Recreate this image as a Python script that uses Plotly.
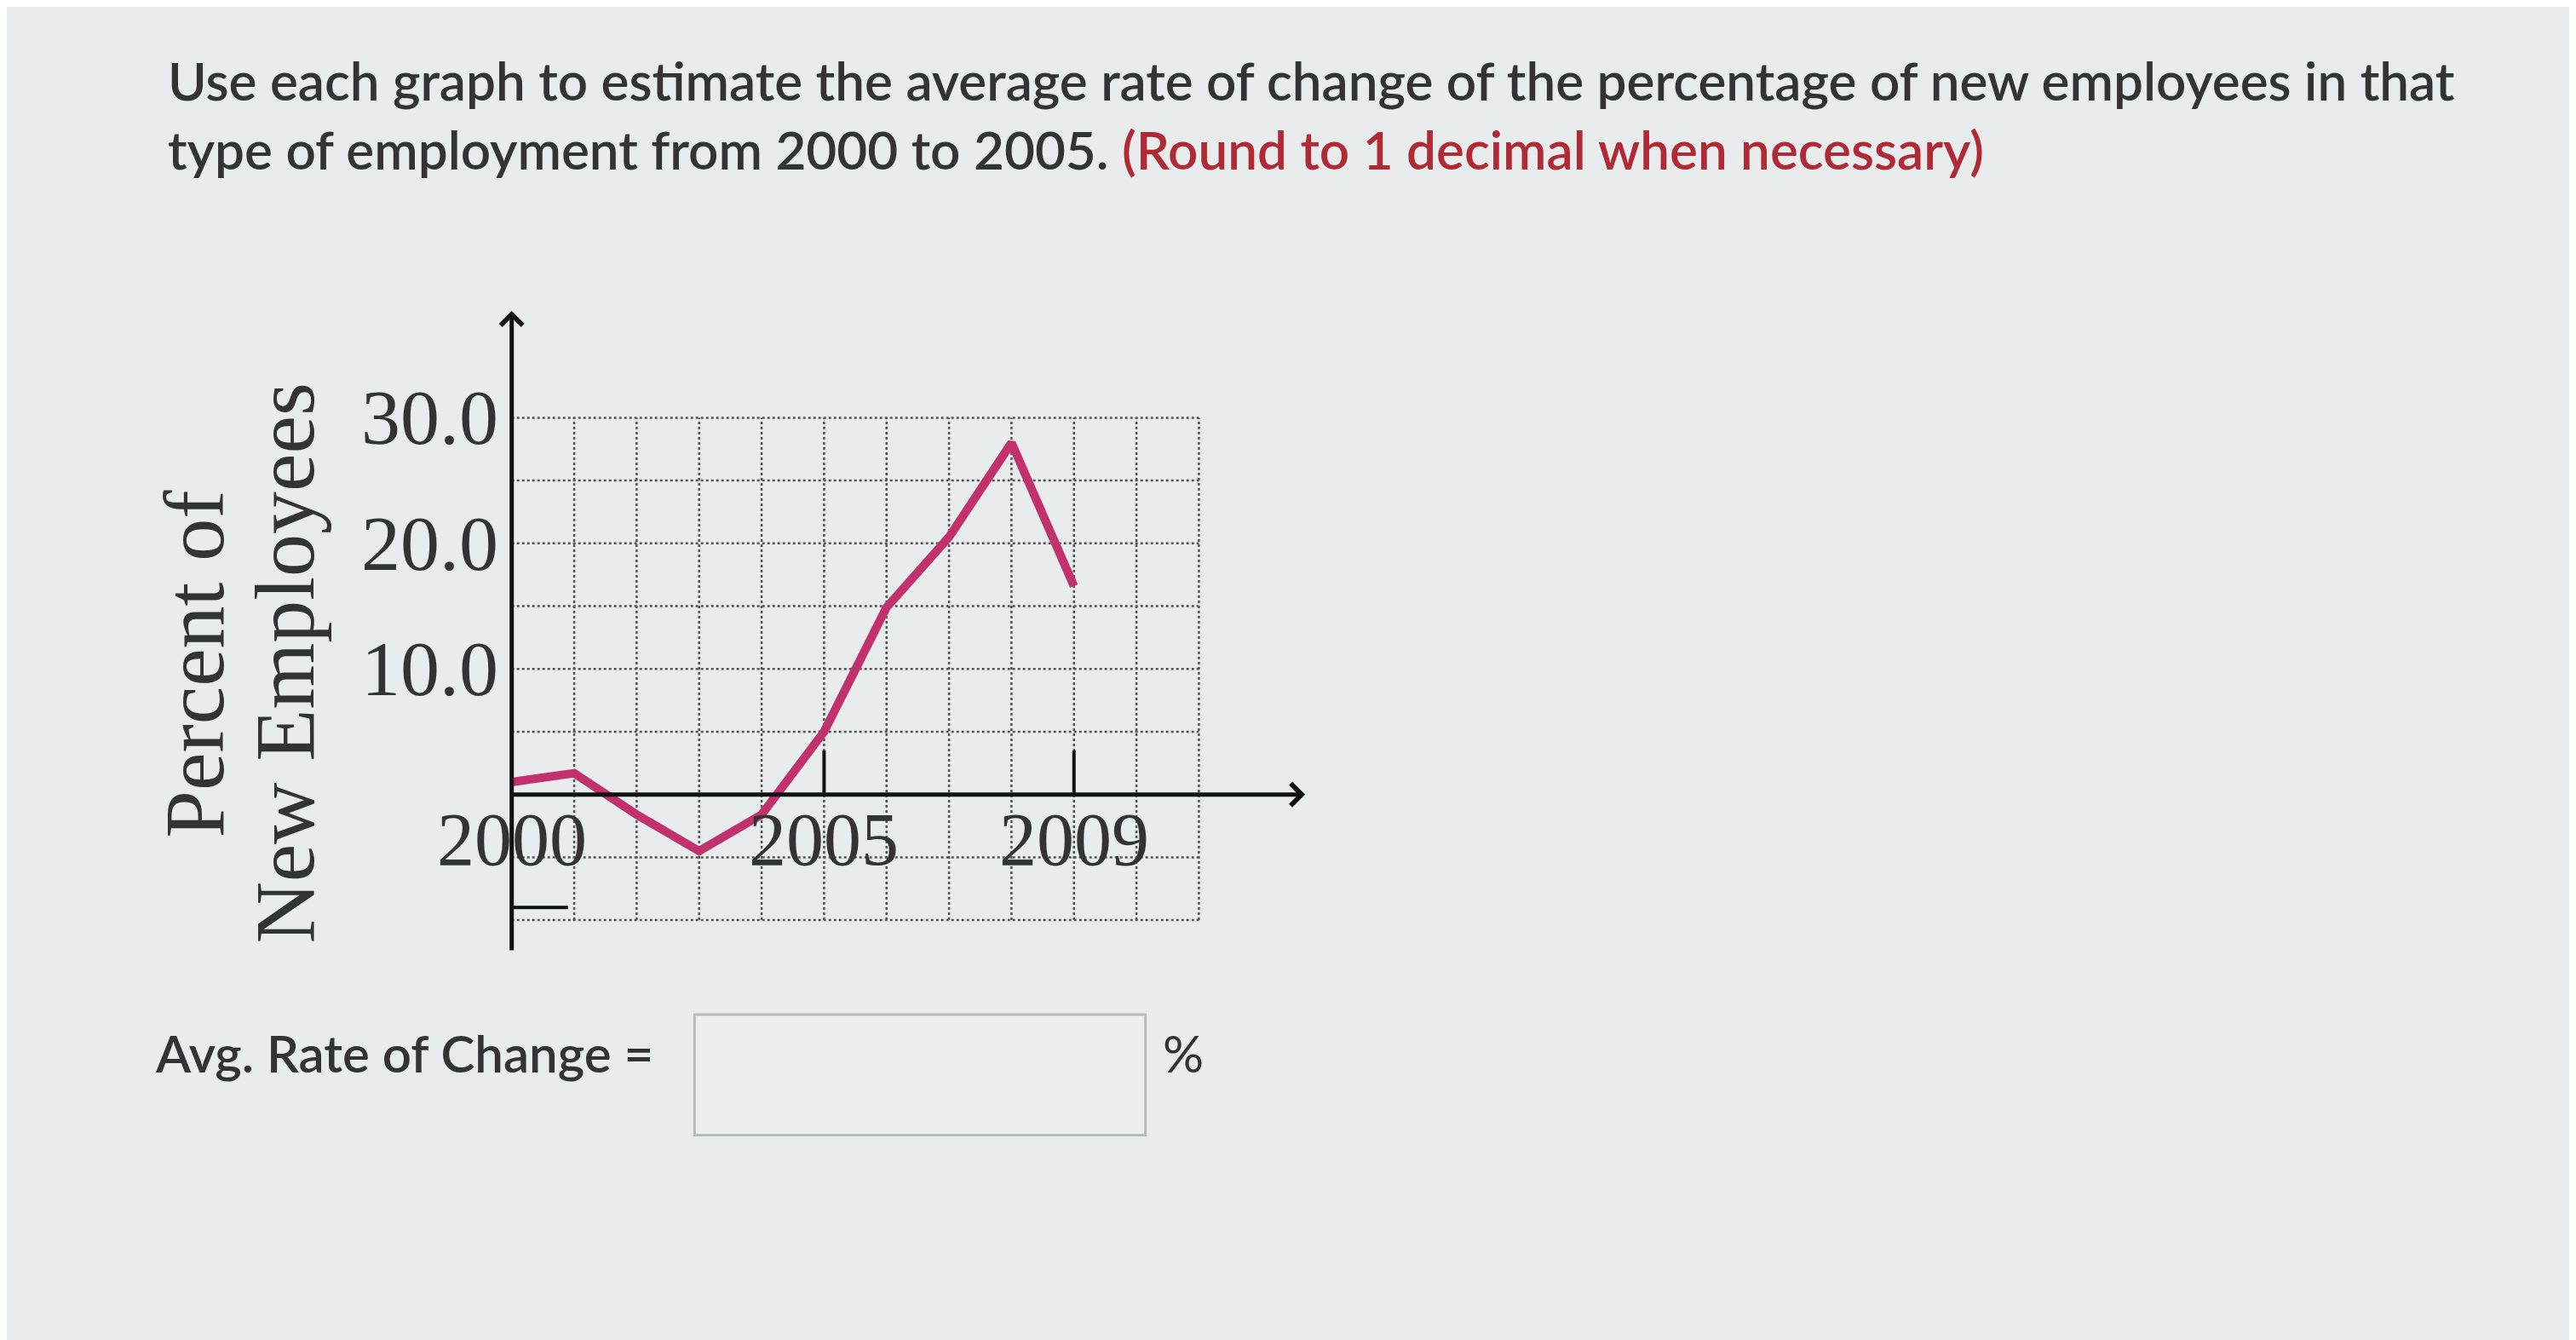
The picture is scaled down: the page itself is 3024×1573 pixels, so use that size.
import plotly.graph_objects as go

years = [2000, 2001, 2002, 2003, 2004, 2005, 2006, 2007, 2008, 2009]
percent = [1.0, 1.7, -1.6, -4.5, -1.6, 5.0, 14.9, 20.5, 28.0, 16.6]
y_ticks = [10, 20, 30]
y_tick_text = ["10.0", "20.0", "30.0"]
x_labels = [2000, 2005, 2009]
grid_x = list(range(2000, 2012))
grid_y = list(range(-10, 35, 5))

fig = go.Figure()
fig.add_trace(go.Scatter(x=years, y=percent, mode="lines",
                         line=dict(color="#c2306e", width=10), showlegend=False))

grid = dict(color="#555", width=2.5, dash="dot")
for gx in grid_x:
    fig.add_shape(type="line", x0=gx, x1=gx, y0=-10, y1=30, line=grid, layer="below")
for gy in grid_y:
    fig.add_shape(type="line", x0=2000, x1=2011, y0=gy, y1=gy, line=grid, layer="below")

# axes with arrows
fig.add_annotation(x=2012.7, y=0, ax=2000, ay=0, xref="x", yref="y", axref="x", ayref="y",
                   showarrow=True, arrowhead=4, arrowsize=1, arrowwidth=5, arrowcolor="#111", text="")
fig.add_annotation(x=2000, y=38.5, ax=2000, ay=-12.5, xref="x", yref="y", axref="x", ayref="y",
                   showarrow=True, arrowhead=4, arrowsize=1, arrowwidth=5, arrowcolor="#111", text="")
for tx in [2005, 2009]:
    fig.add_shape(type="line", x0=tx, x1=tx, y0=0, y1=3.5, line=dict(color="#111", width=4))
fig.add_shape(type="line", x0=2000, x1=2000.9, y0=-9, y1=-9, line=dict(color="#111", width=4))

serif = "Liberation Serif"
for v, t in zip(y_ticks, y_tick_text):
    fig.add_annotation(x=2000, y=v, xref="x", yref="y", text=t, showarrow=False,
                       xanchor="right", xshift=-14, font=dict(family=serif, size=92, color="#333"))
for xl in x_labels:
    fig.add_annotation(x=xl, y=-3.6, xref="x", yref="y", text=str(xl), showarrow=False,
                       font=dict(family=serif, size=88, color="#333"))

fig.add_annotation(x=0.073, y=0.51, xref="paper", yref="paper", text="Percent of", textangle=-90,
                   xanchor="center", yanchor="middle",
                   showarrow=False, font=dict(family=serif, size=100, color="#333"))
fig.add_annotation(x=0.108, y=0.51, xref="paper", yref="paper", text="New Employees", textangle=-90,
                   xanchor="center", yanchor="middle",
                   showarrow=False, font=dict(family=serif, size=100, color="#333"))

sans = "Lato"
fig.add_annotation(x=0.062, y=0.97, xref="paper", yref="paper", xanchor="left", yanchor="top", align="left",
                   text="Use each graph to estimate the average rate of change of the percentage of new employees in that<br>"
                        "type of employment from 2000 to 2005. <span style='color:#b02a36'>(Round to 1 decimal when necessary)</span>",
                   showarrow=False, font=dict(family=sans, size=62, color="#333", weight=600))
fig.add_annotation(x=0.057, y=0.195, xref="paper", yref="paper", xanchor="left",
                   text="Avg. Rate of Change =", showarrow=False,
                   font=dict(family=sans, size=60, color="#333", weight=600))
fig.add_shape(type="rect", xref="paper", yref="paper", x0=0.267, x1=0.442, y0=0.158, y1=0.248,
              line=dict(color="#bbb", width=3), fillcolor="rgba(240,242,242,0.6)")
fig.add_annotation(x=0.448, y=0.195, xref="paper", yref="paper", xanchor="left",
                   text="%", showarrow=False, font=dict(family=sans, size=60, color="#333"))

fig.update_layout(
    width=3024, height=1573, margin=dict(l=0, r=0, t=0, b=0),
    paper_bgcolor="#e9ecec", plot_bgcolor="rgba(0,0,0,0)",
    xaxis=dict(range=[2000, 2012.7], domain=[0.196, 0.504], visible=False),
    yaxis=dict(range=[-12.5, 38.5], domain=[0.295, 0.773], visible=False),
)
fig.write_html("out.html")
